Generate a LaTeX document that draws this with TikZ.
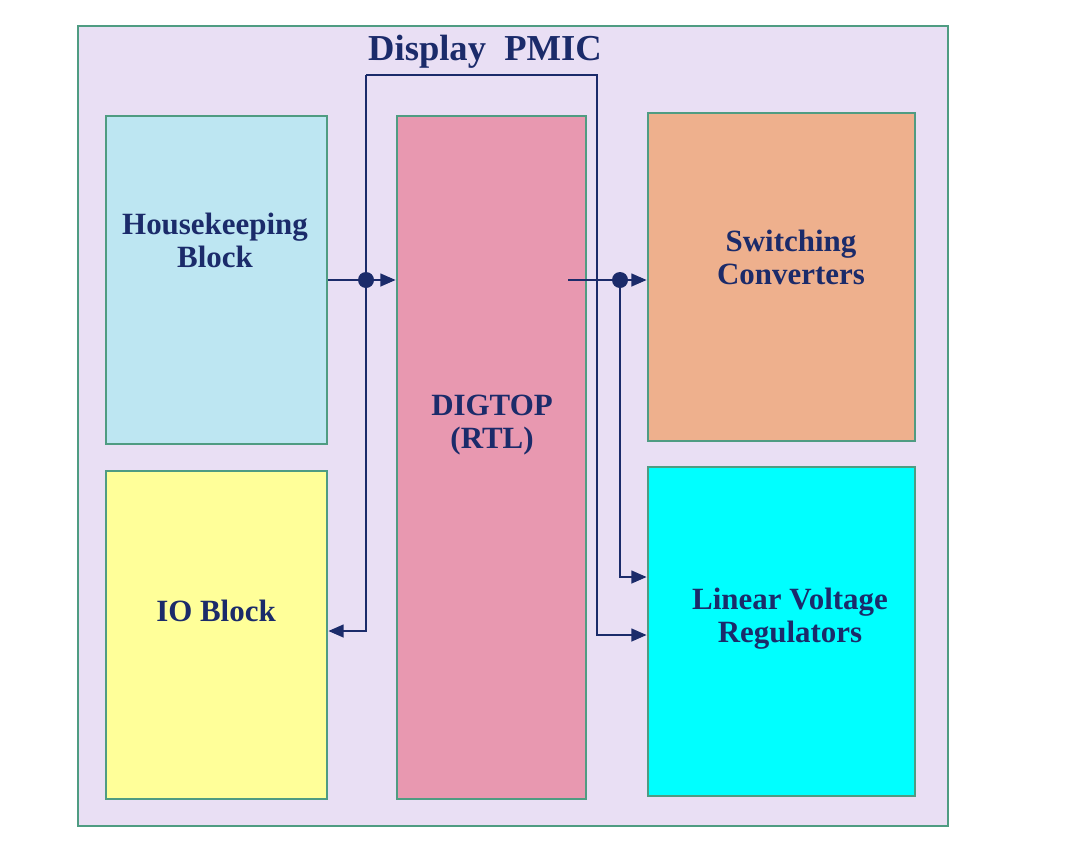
\documentclass[tikz,border=0pt]{standalone}
\usepackage{fontspec}
\setmainfont{Liberation Serif}
\usetikzlibrary{arrows.meta}

\definecolor{pmicbg}{HTML}{E9DFF4}
\definecolor{edgegreen}{HTML}{4F9C82}
\definecolor{navy}{HTML}{1B2B6A}
\definecolor{hkblue}{HTML}{BDE6F2}
\definecolor{ioyellow}{HTML}{FFFF99}
\definecolor{digpink}{HTML}{E898B0}
\definecolor{swpeach}{HTML}{EEB08D}
\definecolor{lvcyan}{HTML}{00FFFF}

\begin{document}
\begin{tikzpicture}[
  blk/.style={draw=edgegreen, line width=2pt, inner sep=0pt},
  lbl/.style={text=navy, font=\bfseries\fontsize{22}{23.5}\selectfont, align=center},
  wire/.style={draw=navy, line width=1.3pt},
  arr/.style={wire, -{Triangle[length=0.38cm, width=0.32cm]}},
  jdot/.style={circle, fill=navy, inner sep=0pt, minimum size=0.4cm}
]
  \useasboundingbox (0, 0) rectangle (27, -21.65);
  \fill[white] (0, 0) rectangle (27, -21.65);

  % outer chip
  \node[blk, fill=pmicbg, minimum width=21.75cm, minimum height=20cm] (pmic) at (12.825, -10.65) {};
  \node[text=navy, font=\bfseries\fontsize{26}{28}\selectfont] (title) at (12.125, -1.3) {Display\ \ PMIC};

  % blocks
  \node[blk, fill=hkblue,   minimum width=5.525cm, minimum height=8.2cm]   (hk)  at (5.4125, -7.0)    {};
  \node[blk, fill=ioyellow, minimum width=5.525cm, minimum height=8.2cm]   (io)  at (5.4125, -15.875) {};
  \node[blk, fill=digpink,  minimum width=4.725cm, minimum height=17.075cm] (dig) at (12.2875, -11.4375) {};
  \node[blk, fill=swpeach,  minimum width=6.675cm, minimum height=8.2cm]   (sw)  at (19.5375, -6.925) {};
  \node[blk, fill=lvcyan,   minimum width=6.675cm, minimum height=8.225cm] (lv)  at (19.5375, -15.7875) {};

  \node[lbl] (hk-t)  at (5.375, -6.0)    {Housekeeping\\Block};
  \node[lbl] (io-t)  at (5.4, -15.275)   {IO Block};
  \node[lbl] (dig-t) at (12.3, -10.625)  {DIGTOP\\(RTL)};
  \node[lbl] (sw-t)  at (19.775, -6.425) {Switching\\Converters};
  \node[lbl] (lv-t)  at (19.75, -15.475) {Linear Voltage\\Regulators};

  % wiring
  \coordinate (bus-l) at (9.15, -7.0);
  \coordinate (bus-r) at (15.5, -7.0);
  \coordinate (dig-o) at (14.2, -7.0);
  \coordinate (top-l) at (9.15, -1.875);
  \coordinate (top-r) at (14.925, -1.875);

  \draw[arr] (hk.east |- bus-l) -- (dig.west |- bus-l);
  \draw[arr] (dig-o) -- (sw.west |- dig-o);
  \draw[arr] (top-l) -- (9.15, -15.775) -- (io.east |- 0, -15.775);
  \draw[arr] (top-l) -- (top-r) -- (14.925, -15.875) -- (lv.west |- 0, -15.875);
  \draw[arr] (bus-r) -- (15.5, -14.425) -- (lv.west |- 0, -14.425);

  \node[jdot] (j-l) at (bus-l) {};
  \node[jdot] (j-r) at (bus-r) {};
\end{tikzpicture}
\end{document}
